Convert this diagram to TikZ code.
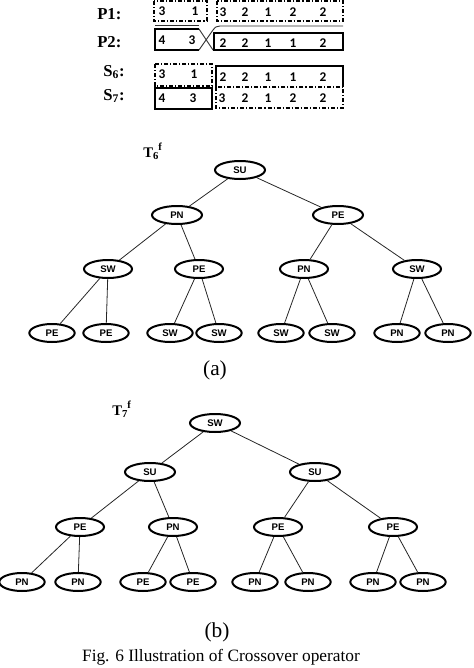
\documentclass[tikz,border=0pt]{standalone}
\usepackage{fontspec}
\setmainfont{Liberation Serif}
\newfontfamily\nodefont{Liberation Sans}
\newfontfamily\digitfont{Carlito}
\usetikzlibrary{shapes.geometric}
\tikzset{
 tn/.style={ellipse, draw, line width=1.5pt, minimum width=37.5pt, minimum height=13.5pt, inner sep=0pt, font=\nodefont\bfseries\fontsize{7.2}{8}\selectfont},
 midnode/.style={tn, minimum width=36pt},
 leafnode/.style={tn, minimum width=34pt},
 conn/.style={line width=0.6pt, draw=black!85},
 dd/.style={line width=0.9pt, dash pattern=on 3pt off 1.5pt on 0.8pt off 1.5pt},
 sb/.style={line width=1.3pt},
 thinx/.style={line width=0.7pt, draw=black!80},
 dg/.style={font=\digitfont\bfseries\fontsize{10}{11}\selectfont, inner sep=0pt},
 lbl/.style={font=\bfseries\fontsize{12.5}{14}\selectfont, inner sep=0pt, anchor=base west},
 tlbl/.style={font=\bfseries\fontsize{11}{13}\selectfont, inner sep=0pt, anchor=base west},
 sublbl/.style={font=\fontsize{16}{18}\selectfont, inner sep=0pt},
 captxt/.style={font=\fontsize{13}{15}\selectfont, inner sep=0pt, anchor=base},
}
\begin{document}
\begin{tikzpicture}[x=0.75pt,y=-0.75pt]
\path[use as bounding box] (0,0) rectangle (474,668);

% ---------- chromosome strings ----------
\node[lbl] (lp1) at (97,19) {P1:};
\node[lbl] (lp2) at (97,47) {P2:};
\node[lbl] (ls6) at (103,76) {S\textsubscript{6}:};
\node[lbl] (ls7) at (103,100) {S\textsubscript{7}:};

% P1
\draw[dd] (154,1) rectangle (207,21);
\draw[dd] (217,1) rectangle (343,21);
% P2
\draw[thinx] (155,25.5) -- (199,25.5);
\draw[sb] (199,29) -- (155,29) -- (155,50) -- (199,50);
\draw[thinx] (199,29) -- (213,50);
\draw[thinx] (199,50) -- (213,30) .. controls (215,27) .. (220,26) -- (343,26);
\draw[sb] (214,33) rectangle (343,50);
% S6 / S7
\draw[dd] (155,64) rectangle (212,86);
\draw[sb] (155,88) rectangle (212,109);
\draw[dd] (216,87) rectangle (343,108);
\draw[sb] (216,87) -- (216,66) -- (343,66) -- (343,87);

% digits
\node[dg] (p1l1) at (162,11) {3};
\node[dg] (p1l2) at (195,11) {1};
\node[dg] (p1r1) at (223,12) {3};
\node[dg] (p1r2) at (245,12) {2};
\node[dg] (p1r3) at (268,12) {1};
\node[dg] (p1r4) at (293,12) {2};
\node[dg] (p1r5) at (323,12) {2};

\node[dg] (p2l1) at (162,40) {4};
\node[dg] (p2l2) at (192,40) {3};
\node[dg] (p2r1) at (223,43) {2};
\node[dg] (p2r2) at (245,43) {2};
\node[dg] (p2r3) at (268,43) {1};
\node[dg] (p2r4) at (293,43) {1};
\node[dg] (p2r5) at (323,43) {2};

\node[dg] (s6l1) at (162,74) {3};
\node[dg] (s6l2) at (194,74) {1};
\node[dg] (s6r1) at (223,77) {2};
\node[dg] (s6r2) at (245,77) {2};
\node[dg] (s6r3) at (268,77) {1};
\node[dg] (s6r4) at (293,77) {1};
\node[dg] (s6r5) at (323,77) {2};

\node[dg] (s7l1) at (162,98) {4};
\node[dg] (s7l2) at (193,98) {3};
\node[dg] (s7r1) at (222,98) {3};
\node[dg] (s7r2) at (245,98) {2};
\node[dg] (s7r3) at (268,98) {1};
\node[dg] (s7r4) at (293,98) {2};
\node[dg] (s7r5) at (323,98) {2};

% ---------- tree T6 ----------
\node[tlbl] (t6) at (143,157) {T\raisebox{-0.35ex}{\fontsize{8}{9}\selectfont 6}\raisebox{0.9ex}{\fontsize{8}{9}\selectfont f}};
\node[tn] (a0) at (240,170) {SU};
\node[tn] (a1) at (177,215) {PN};
\node[tn] (a2) at (338,215) {PE};
\node[midnode] (a3) at (108,269) {SW};
\node[midnode] (a4) at (199,269) {PE};
\node[midnode] (a5) at (304,269) {PN};
\node[midnode] (a6) at (417,269) {SW};
\node[leafnode] (a7) at (52,333) {PE};
\node[leafnode] (a8) at (106,333) {PE};
\node[leafnode] (a9) at (170,333) {SW};
\node[leafnode] (a10) at (219,333) {SW};
\node[leafnode] (a11) at (281,333) {SW};
\node[leafnode] (a12) at (332,333) {SW};
\node[leafnode] (a13) at (397,333) {PN};
\node[leafnode] (a14) at (448,333) {PN};
\draw[conn] (a0) -- (a1); \draw[conn] (a0) -- (a2);
\draw[conn] (a1) -- (a3); \draw[conn] (a1) -- (a4);
\draw[conn] (a2) -- (a5); \draw[conn] (a2) -- (a6);
\draw[conn] (a3) -- (a7); \draw[conn] (a3) -- (a8);
\draw[conn] (a4) -- (a9); \draw[conn] (a4) -- (a10);
\draw[conn] (a5) -- (a11); \draw[conn] (a5) -- (a12);
\draw[conn] (a6) -- (a13); \draw[conn] (a6) -- (a14);
\node[sublbl] (la) at (215,370) {(a)};

% ---------- tree T7 ----------
\node[tlbl] (t7) at (112,415) {T\raisebox{-0.35ex}{\fontsize{8}{9}\selectfont 7}\raisebox{0.9ex}{\fontsize{8}{9}\selectfont f}};
\node[tn] (b0) at (215,423) {SW};
\node[tn] (b1) at (150,472) {SU};
\node[tn] (b2) at (315,472) {SU};
\node[midnode] (b3) at (80,527) {PE};
\node[midnode] (b4) at (173,527) {PN};
\node[midnode] (b5) at (278,527) {PE};
\node[midnode] (b6) at (393,527) {PE};
\node[leafnode] (b7) at (22,582) {PN};
\node[leafnode] (b8) at (78,582) {PN};
\node[leafnode] (b9) at (143,582) {PE};
\node[leafnode] (b10) at (193,582) {PE};
\node[leafnode] (b11) at (255,582) {PN};
\node[leafnode] (b12) at (308,582) {PN};
\node[leafnode] (b13) at (373,582) {PN};
\node[leafnode] (b14) at (423,582) {PN};
\draw[conn] (b0) -- (b1); \draw[conn] (b0) -- (b2);
\draw[conn] (b1) -- (b3); \draw[conn] (b1) -- (b4);
\draw[conn] (b2) -- (b5); \draw[conn] (b2) -- (b6);
\draw[conn] (b3) -- (b7); \draw[conn] (b3) -- (b8);
\draw[conn] (b4) -- (b9); \draw[conn] (b4) -- (b10);
\draw[conn] (b5) -- (b11); \draw[conn] (b5) -- (b12);
\draw[conn] (b6) -- (b13); \draw[conn] (b6) -- (b14);
\node[sublbl] (lb) at (217,632) {(b)};

\node[captxt] (caption) at (221,661) {Fig. 6 Illustration of Crossover operator};
\end{tikzpicture}
\end{document}
